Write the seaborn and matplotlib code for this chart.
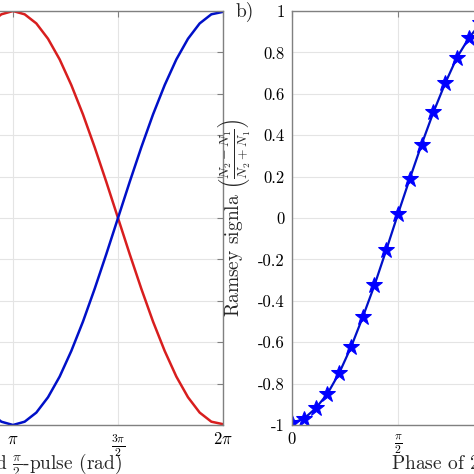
import numpy as np
import pandas as pd
import matplotlib
matplotlib.use("Agg")
import matplotlib.pyplot as plt
import seaborn as sns

# panel a) phase of second pi/2-pulse (degrees) and the two populations
phase_a_deg = [160, 170, 180, 190, 200, 210, 220, 230, 240, 250, 260,
               270, 280, 290, 300, 310, 320, 330, 340, 350, 360]
pop_red = [0.970, 0.992, 1.000, 0.992, 0.970, 0.933, 0.883, 0.821, 0.750, 0.671, 0.587,
           0.500, 0.413, 0.329, 0.250, 0.179, 0.117, 0.067, 0.030, 0.008, 0.002]
pop_blue = [0.030, 0.008, 0.000, 0.008, 0.030, 0.067, 0.117, 0.179, 0.250, 0.329, 0.413,
            0.500, 0.587, 0.671, 0.750, 0.821, 0.883, 0.933, 0.970, 0.992, 0.998]

# panel b) Ramsey signal vs phase
phase_b_deg = [0, 10, 20, 30, 40, 50, 60, 70, 80, 90, 100, 110, 120, 130, 140, 150, 160]
ramsey = [-0.99, -0.97, -0.92, -0.85, -0.75, -0.625, -0.48, -0.325, -0.155,
          0.02, 0.19, 0.355, 0.51, 0.65, 0.775, 0.868, 0.94]

sns.set_theme(style="whitegrid")
plt.rcParams["font.family"] = "cmr10"
plt.rcParams["mathtext.fontset"] = "cm"
plt.rcParams["axes.formatter.use_mathtext"] = True

RED = "#d81e1e"
BLUE = "#0010c8"
EDGE = "#808080"

df_a = pd.DataFrame({"phase": np.deg2rad(phase_a_deg), "red": pop_red, "blue": pop_blue})
df_b = pd.DataFrame({"phase": np.deg2rad(phase_b_deg), "signal": ramsey})

fig = plt.figure(figsize=(4.74, 4.74), dpi=100)
ax1 = fig.add_axes([-197 / 474, 49 / 474, 420 / 474, 414 / 474])
ax2 = fig.add_axes([292 / 474, 49 / 474, 424 / 474, 414 / 474])

sns.lineplot(data=df_a, x="phase", y="red", color=RED, lw=1.8, ax=ax1)
sns.lineplot(data=df_a, x="phase", y="blue", color=BLUE, lw=1.8, ax=ax1)
ax1.set_xlim(0, 2 * np.pi)
ax1.set_ylim(0, 1)
ax1.set_xticks([0, np.pi / 2, np.pi, 3 * np.pi / 2, 2 * np.pi])
ax1.set_xticklabels(["$0$", r"$\frac{\pi}{2}$", r"$\pi$", r"$\frac{3\pi}{2}$", r"$2\pi$"])
ax1.set_yticks(np.linspace(0, 1, 11))
ax1.set_xlabel(r"Phase of second $\frac{\pi}{2}$-pulse (rad)", fontsize=14)
ax1.xaxis.set_label_coords(0.46, -0.064)
ax1.set_ylabel("")

sns.lineplot(data=df_b, x="phase", y="signal", color=BLUE, lw=1.6, marker="*",
             markersize=12, markerfacecolor="#0000ff", markeredgecolor="#0000ff", ax=ax2)
ax2.set_xlim(0, 2 * np.pi)
ax2.set_ylim(-1, 1)
ax2.set_xticks([0, np.pi / 2, np.pi, 3 * np.pi / 2, 2 * np.pi])
ax2.set_xticklabels(["0", r"$\frac{\pi}{2}$", r"$\pi$", r"$\frac{3\pi}{2}$", r"$2\pi$"])
yt = [-1, -0.8, -0.6, -0.4, -0.2, 0, 0.2, 0.4, 0.6, 0.8, 1]
ax2.set_yticks(yt)
ax2.set_yticklabels([f"{v:g}" for v in yt])
ax2.set_xlabel(r"Phase of 2nd $\frac{\pi}{2}$-pulse (rad)", fontsize=14)
ax2.xaxis.set_label_coords(0.5, -0.064)
ax2.set_ylabel(r"Ramsey signla $\left(\frac{N_2-N_1}{N_2+N_1}\right)$", fontsize=14)
ax2.yaxis.set_label_coords(-0.094, 0.5)

for ax in (ax1, ax2):
    ax.grid(True, color="#e4e4e4", lw=0.8)
    for s in ax.spines.values():
        s.set_color(EDGE)
        s.set_linewidth(1.0)
        s.set_visible(True)
    ax.tick_params(direction="in", length=4, width=0.8, color=EDGE, labelsize=12,
                   pad=5, top=True, right=True, labelcolor="black")
    ax.set_facecolor("white")

fig.text(236 / 474, 1 - 12 / 474, "b)", fontsize=14, va="center", ha="left")

fig.savefig("out.png", dpi=100, facecolor="white")
